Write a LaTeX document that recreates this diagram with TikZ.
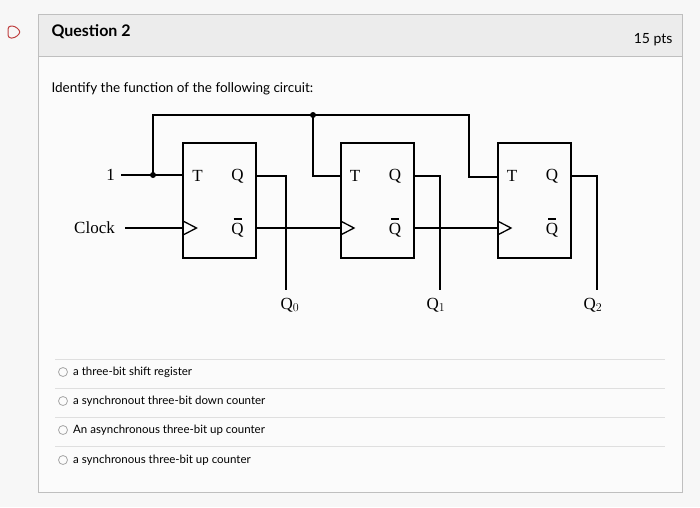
\documentclass[tikz,border=0pt]{standalone}
\usepackage{fontspec}
\setmainfont{Lato}
\newfontfamily\serifc{Liberation Serif}
\begin{document}
\begin{tikzpicture}[x=1pt,y=-1pt,
  ff/.style={draw,line width=2pt,minimum width=73pt,minimum height=115pt,inner sep=0},
  w/.style={line width=1.3pt},
  lab/.style={font=\serifc\fontsize{17}{17}\selectfont,inner sep=0},
  opt/.style={font=\fontsize{11.5}{13}\selectfont,anchor=west,inner sep=0},
  sep/.style={draw=gray!25,line width=0.6pt},
  dot/.style={circle,fill,inner sep=0,minimum size=6pt}]
\useasboundingbox (0,0) rectangle (700,507);
\fill[gray!6] (0,0) rectangle (700,507);
\fill[white!97!gray,draw=gray!50] (38,14) rectangle (682,492);
\fill[gray!15,draw=gray!50] (38,14) rectangle (682,56);
\draw[red!50!gray,line width=1pt,rounded corners=3pt] (8,26) -- (15,26) -- (21,32) -- (15,38) -- (8,38) -- cycle;
\node[anchor=west,font=\fontsize{16}{16}\selectfont\bfseries] (title) at (48,32) {Question 2};
\node[anchor=east,font=\fontsize{14}{14}\selectfont] (pts) at (676,40) {15 pts};
\node[anchor=west,font=\fontsize{13.5}{15}\selectfont] (q) at (48,89) {Identify the function of the following circuit:};
% flip-flops
\foreach \i/\x in {1/219.5,2/377,3/534}{
  \node[ff] (f\i) at (\x,200) {};
  \node[lab] (t\i) at (\x-22,176) {T};
  \node[lab] (q\i) at (\x+18,176) {Q};
  \node[lab] (n\i) at (\x+18,230) {Q};
  \draw[line width=1.2pt] (\x+14,219) -- (\x+22,219);
  \draw[line width=1.3pt] (\x-36.5,221) -- (\x-23,228) -- (\x-36.5,235);
}
\node[lab,anchor=east] (one) at (115,175) {1};
\node[lab,anchor=east] (clk) at (115,228) {Clock};
\coordinate (j1) at (153,175);
\coordinate (j2) at (313,115);
\node[dot] (d1) at (j1) {};
\node[dot] (d2) at (j2) {};
\draw[w] (121,175) -- (f1.west|-j1);
\draw[w] (j1) -- (153,115) -- (469,115) -- (469,177) -- (f3.west|-0,177);
\draw[w] (j2) -- (313,176) -- (f2.west|-0,176);
\draw[w] (125,228) -- (f1.west|-0,228);
\draw[w] (f1.east|-0,228) -- (f2.west|-0,228);
\draw[w] (f2.east|-0,228) -- (f3.west|-0,228);
\node[lab] (Q0) at (290,305) {Q$_0$};
\node[lab] (Q1) at (436,305) {Q$_1$};
\node[lab] (Q2) at (593,305) {Q$_2$};
\draw[w] (f1.east|-0,176) -- (286,176) -- (286,290);
\draw[w] (f2.east|-0,176) -- (440,176) -- (440,290);
\draw[w] (f3.east|-0,176) -- (597,176) -- (597,290);
% options
\foreach \y in {359,388,417,446} \draw[sep] (55,\y) -- (665,\y);
\foreach \y/\t [count=\k] in {372/a three-bit shift register,401/a synchronout three-bit down counter,430/An asynchronous three-bit up counter,460/a synchronous three-bit up counter}{
  \draw[gray!70,line width=0.8pt] (63,\y) circle (4.5);
  \node[opt] (o\k) at (73,\y) {\t};
}
\end{tikzpicture}
\end{document}
